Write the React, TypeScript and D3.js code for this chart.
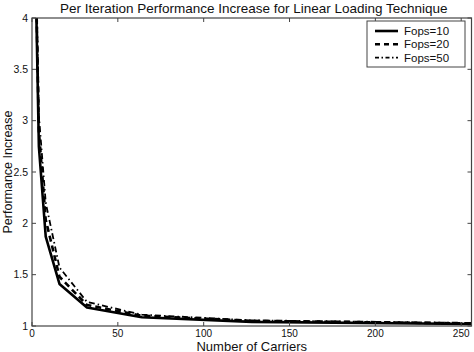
import React from "react";
import * as d3 from "d3";

const carriers = [1, 2, 4, 8, 16, 32, 64, 128, 256];
const fops10 = [8.0, 4.5, 2.75, 1.87, 1.41, 1.18, 1.085, 1.04, 1.02];
const fops20 = [8.3, 4.65, 2.9, 2.035, 1.48, 1.205, 1.1, 1.05, 1.025];
const fops50 = [8.6, 4.85, 3.05, 2.2, 1.57, 1.235, 1.11, 1.055, 1.03];
const seriesNames = ["Fops=10", "Fops=20", "Fops=50"];
const xTicks = [0, 50, 100, 150, 200, 250];
const yTicks = [1, 1.5, 2, 2.5, 3, 3.5, 4];

const W = 474;
const H = 352;
const M = { left: 32, right: 2.5, top: 18, bottom: 26 };
const FONT = "'Liberation Sans', Arial, Helvetica, sans-serif";

export default function App() {
  const x = d3.scaleLinear().domain([0, 256]).range([M.left, W - M.right]);
  const y = d3.scaleLinear().domain([1, 4]).range([H - M.bottom, M.top]);
  const line = d3
    .line<[number, number]>()
    .x((d) => x(d[0]))
    .y((d) => y(d[1]));
  const all = [fops10, fops20, fops50];
  const styles = [
    { w: 2.6, dash: "none" },
    { w: 2.6, dash: "6,4" },
    { w: 1.8, dash: "6,3,1.5,3" },
  ];
  const x0 = x.range()[0], x1 = x.range()[1];
  const y0 = y.range()[0], y1 = y.range()[1];
  const axisColor = "#444";
  const tl = 4;
  return (
    <svg
      width={W}
      height={H}
      style={{ position: "absolute", left: 0, top: 0, background: "#fff" }}
      fontFamily={FONT}
    >
      <defs>
        <clipPath id="plot">
          <rect x={x0} y={y1} width={x1 - x0} height={y0 - y1} />
        </clipPath>
      </defs>
      <rect x={0} y={0} width={W} height={H} fill="#fff" />
      <text x={(x0 + x1) / 2 + 2} y={13} fontSize={13.5} textAnchor="middle" fill="#111">
        Per Iteration Performance Increase for Linear Loading Technique
      </text>
      <g clipPath="url(#plot)">
        {all.map((vals, i) => (
          <path
            key={i}
            d={line(carriers.map((c, j) => [c, vals[j]] as [number, number])) || ""}
            fill="none"
            stroke="#000"
            strokeWidth={styles[i].w}
            strokeDasharray={styles[i].dash}
            strokeLinejoin="round"
          />
        ))}
      </g>
      <rect x={x0} y={y1} width={x1 - x0} height={y0 - y1} fill="none" stroke={axisColor} strokeWidth={1.2} />
      {xTicks.map((t) => (
        <g key={"x" + t}>
          <line x1={x(t)} x2={x(t)} y1={y0} y2={y0 - tl} stroke={axisColor} />
          <line x1={x(t)} x2={x(t)} y1={y1} y2={y1 + tl} stroke={axisColor} />
          <text x={x(t)} y={y0 + 10.5} fontSize={10} textAnchor="middle" fill="#111">
            {t}
          </text>
        </g>
      ))}
      {yTicks.map((t) => (
        <g key={"y" + t}>
          <line x1={x0} x2={x0 + tl} y1={y(t)} y2={y(t)} stroke={axisColor} />
          <line x1={x1} x2={x1 - tl} y1={y(t)} y2={y(t)} stroke={axisColor} />
          <text x={x0 - 4} y={y(t) + 3.5} fontSize={10.5} textAnchor="end" fill="#111">
            {t}
          </text>
        </g>
      ))}
      <text x={(x0 + x1) / 2} y={350.5} fontSize={13} textAnchor="middle" fill="#111">
        Number of Carriers
      </text>
      <text
        transform={`translate(12, ${(y0 + y1) / 2}) rotate(-90)`}
        fontSize={12.5}
        textAnchor="middle"
        fill="#111"
      >
        Performance Increase
      </text>
      <g>
        <rect x={367} y={21} width={98} height={46} fill="#fff" stroke={axisColor} strokeWidth={1} />
        {seriesNames.map((n, i) => (
          <g key={n}>
            <line
              x1={375}
              x2={398}
              y1={31 + i * 13.3}
              y2={31 + i * 13.3}
              stroke="#000"
              strokeWidth={styles[i].w}
              strokeDasharray={i === 1 ? "5,4" : i === 2 ? "4,2.5,1.5,2.5" : "none"}
            />
            <text x={404} y={35 + i * 13.3} fontSize={11.5} fill="#111">
              {n}
            </text>
          </g>
        ))}
      </g>
    </svg>
  );
}
